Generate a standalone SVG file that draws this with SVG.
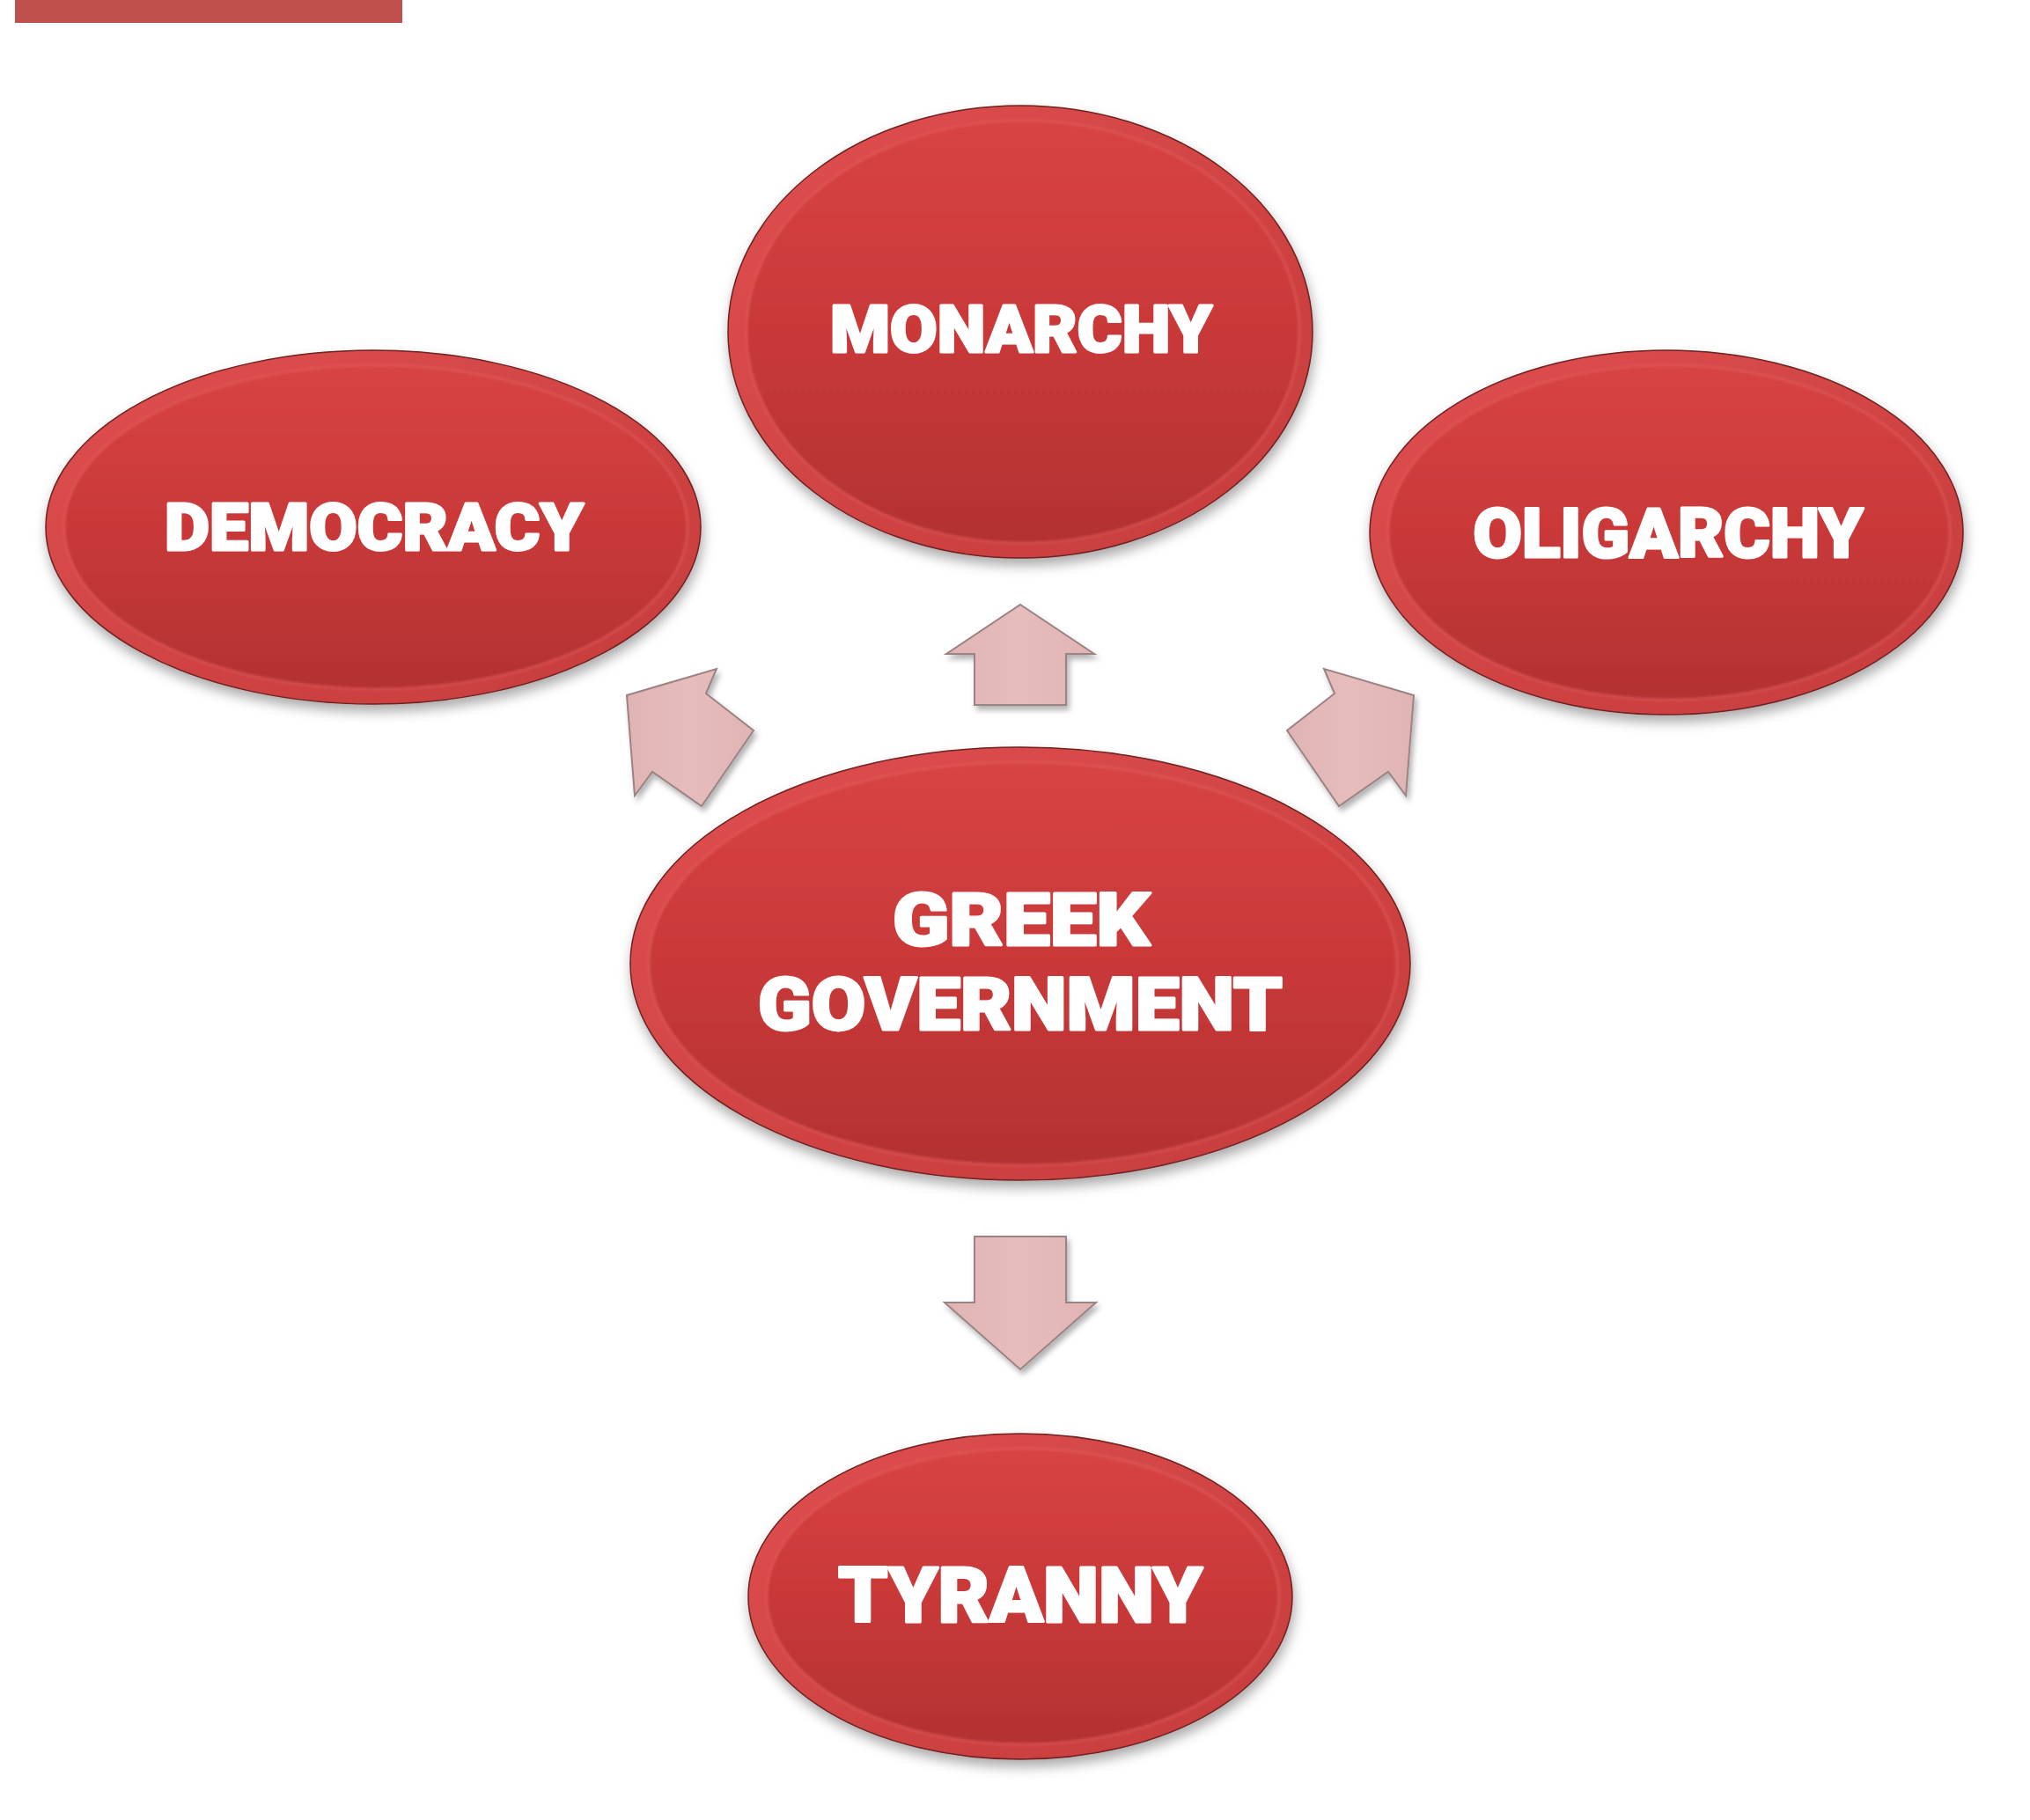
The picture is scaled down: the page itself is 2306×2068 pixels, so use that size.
<svg xmlns="http://www.w3.org/2000/svg" width="2306" height="2068" viewBox="0 0 2306 2068">
<defs>
<linearGradient id="face" x1="0" y1="0" x2="0" y2="1">
<stop offset="0" stop-color="#D84343"/>
<stop offset="0.5" stop-color="#C93838"/>
<stop offset="1" stop-color="#B33232"/>
</linearGradient>
<linearGradient id="rim" x1="0" y1="0" x2="1" y2="1">
<stop offset="0" stop-color="#E05050"/>
<stop offset="0.5" stop-color="#D24444"/>
<stop offset="1" stop-color="#C63C3C"/>
</linearGradient>
<linearGradient id="arrowFill" x1="0" y1="0" x2="1" y2="0">
<stop offset="0" stop-color="#E1B4B4"/>
<stop offset="0.5" stop-color="#E6BCBC"/>
<stop offset="1" stop-color="#E1B4B4"/>
</linearGradient>
<filter id="shadow" x="-10%" y="-10%" width="120%" height="125%">
<feDropShadow dx="2" dy="8" stdDeviation="7" flood-color="#000" flood-opacity="0.33"/>
</filter>
<filter id="ashadow" x="-20%" y="-20%" width="140%" height="140%">
<feDropShadow dx="3" dy="5" stdDeviation="3" flood-color="#000" flood-opacity="0.3"/>
</filter>
<filter id="soft" x="-5%" y="-5%" width="110%" height="110%">
<feGaussianBlur stdDeviation="1.8"/>
</filter>
</defs>
<style>
.base{fill:url(#rim);stroke:#6E2020;stroke-width:1.5;filter:url(#shadow)}
.face{fill:url(#face);stroke:#E56262;stroke-width:2.5;stroke-opacity:0.55;filter:url(#soft)}
.arrow{fill:url(#arrowFill);stroke:#9C8383;stroke-width:2;stroke-linejoin:miter;filter:url(#ashadow)}
.lbl{font-family:Roboto,Inter,"Liberation Sans",sans-serif;font-weight:900;fill:#FFFFFF;stroke:#FFFFFF;stroke-width:3;stroke-linejoin:round;text-anchor:middle}
</style>
<rect x="17" y="0" width="440" height="26" fill="#C0504D"/>
<g id="connectors">
<polygon class="arrow" points="1159,687 1243,743 1211,743 1211,801 1107,801 1107,743 1075,743"/>
<polygon class="arrow" points="712,790 814,760 802,788 856,830 797,916 741,877 721,904"/>
<polygon class="arrow" points="1606,790 1504,760 1516,788 1462,830 1521,916 1577,877 1597,904"/>
<polygon class="arrow" points="1107,1405 1211,1405 1211,1480 1245,1480 1159,1556 1073,1480 1107,1480"/>
</g>
<g id="monarchy">
<ellipse class="base" cx="1159" cy="377" rx="332" ry="257"/>
<ellipse class="face" cx="1162" cy="377" rx="314" ry="240"/>
<text class="lbl" x="1160" y="400" font-size="75" textLength="434" lengthAdjust="spacingAndGlyphs">MONARCHY</text>
</g>
<g id="democracy">
<ellipse class="base" cx="424" cy="599" rx="372" ry="201"/>
<ellipse class="face" cx="427" cy="599" rx="354" ry="184"/>
<text class="lbl" x="425" y="625" font-size="75" textLength="476" lengthAdjust="spacingAndGlyphs">DEMOCRACY</text>
</g>
<g id="oligarchy">
<ellipse class="base" cx="1893" cy="605" rx="337" ry="207"/>
<ellipse class="face" cx="1896" cy="605" rx="319" ry="190"/>
<text class="lbl" x="1895" y="633" font-size="78" textLength="443" lengthAdjust="spacingAndGlyphs">OLIGARCHY</text>
</g>
<g id="greek-government">
<ellipse class="base" cx="1159" cy="1095" rx="443" ry="246"/>
<ellipse class="face" cx="1162" cy="1095" rx="425" ry="229"/>
<text class="lbl" x="1160" y="1074" font-size="83" textLength="292" lengthAdjust="spacingAndGlyphs">GREEK</text>
<text class="lbl" x="1159" y="1170" font-size="84" textLength="596" lengthAdjust="spacingAndGlyphs">GOVERNMENT</text>
</g>
<g id="tyranny">
<ellipse class="base" cx="1159" cy="1814" rx="309" ry="185"/>
<ellipse class="face" cx="1162" cy="1814" rx="291" ry="168"/>
<text class="lbl" x="1159" y="1843" font-size="87" textLength="414" lengthAdjust="spacingAndGlyphs">TYRANNY</text>
</g>
</svg>
